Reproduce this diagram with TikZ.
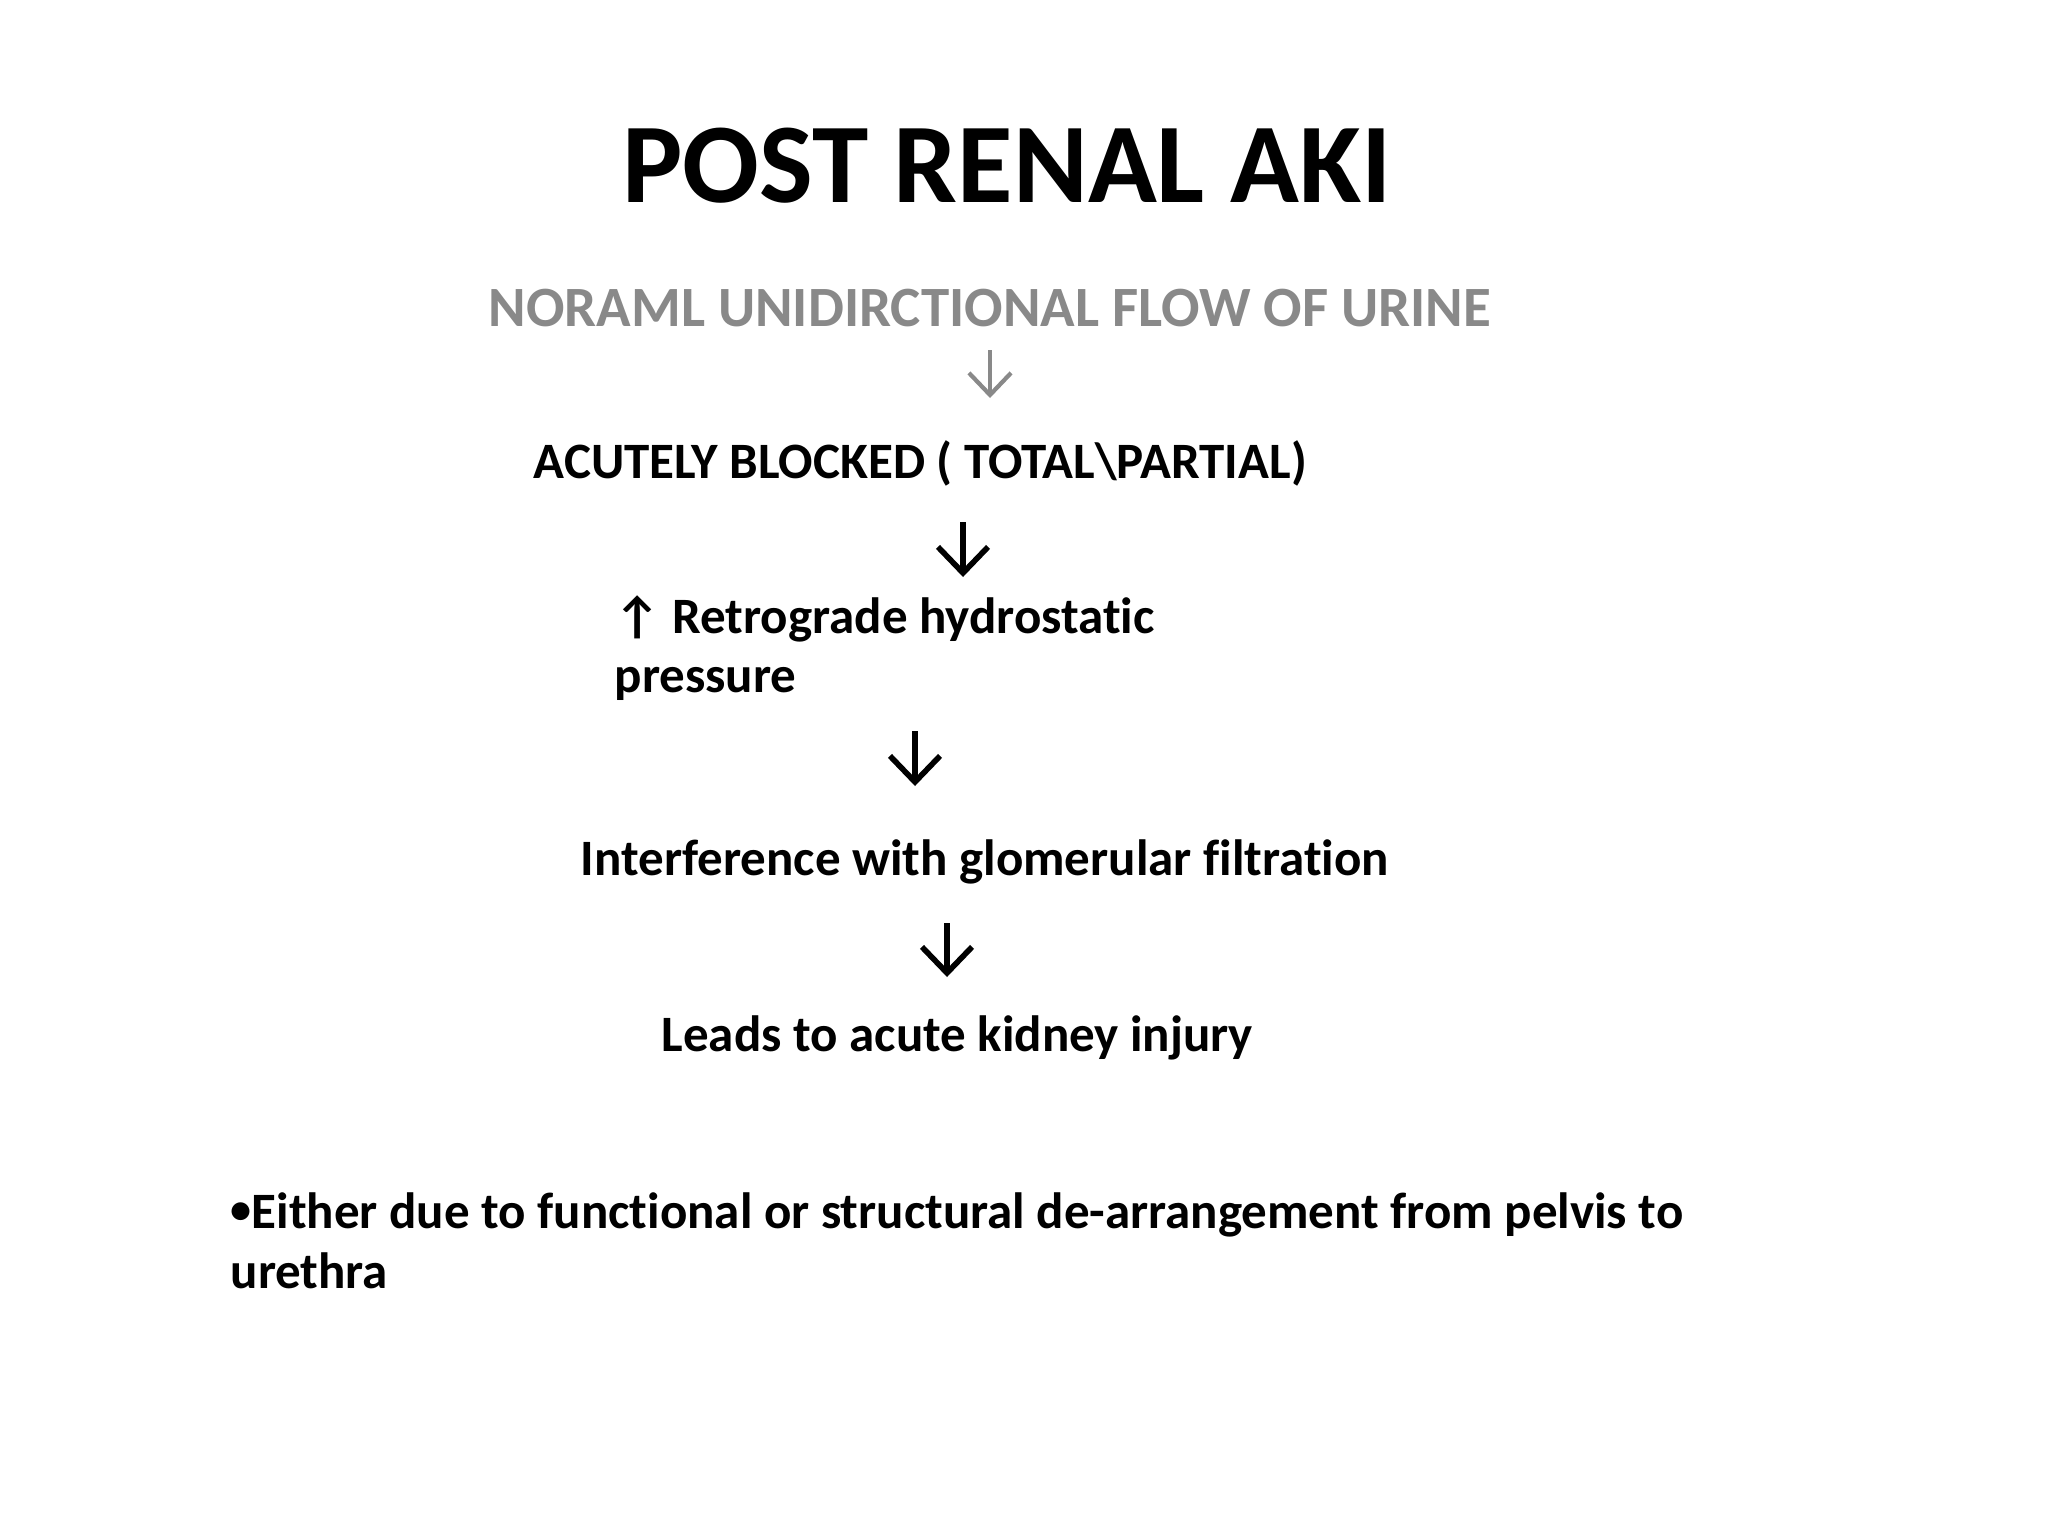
\documentclass[tikz,border=0pt]{standalone}
\usepackage{fontspec}
\setmainfont[Ligatures=NoCommon]{Carlito}
\usetikzlibrary{arrows.meta}
\definecolor{fadegray}{RGB}{137,137,137}
\tikzset{
  txt/.style={inner sep=0pt, font=\fontsize{14.5}{18}\selectfont\bfseries},
  flow/.style={line width=1.6pt, -{Straight Barb[length=0.26cm, width=0.5cm]}},
  fadeflow/.style={line width=1.2pt, draw=fadegray, -{Straight Barb[length=0.22cm, width=0.42cm]}}
}
\begin{document}
\begin{tikzpicture}[x=0.01cm,y=-0.01cm]
\useasboundingbox[fill=white] (0,0) rectangle (2048,1536);
\node[inner sep=0pt, anchor=base, font=\fontsize{32.3}{40}\selectfont\bfseries] (title) at (1007,202) {POST RENAL AKI};
\node[txt, anchor=base, text=fadegray, font=\fontsize{16.2}{20}\selectfont\bfseries] (normal) at (990,326) {NORAML UNIDIRCTIONAL FLOW OF URINE};
\coordinate (g1) at (990,350);
\coordinate (g2) at (990,398);
\draw[fadeflow] (g1) -- (g2);
\node[txt, anchor=base west] (blocked) at (533,478) {ACUTELY BLOCKED ( TOTAL\textbackslash PARTIAL)};
\coordinate (a1s) at (963,522);
\coordinate (a1e) at (963,577);
\draw[flow] (a1s) -- (a1e);
\node[txt, anchor=base west] (ret1) at (614,633) {↑ Retrograde hydrostatic};
\node[txt, anchor=base west] (ret2) at (614,692) {pressure};
\coordinate (a2s) at (915,731);
\coordinate (a2e) at (915,786);
\draw[flow] (a2s) -- (a2e);
\node[txt, anchor=base] (interf) at (985,875) {Interference with glomerular filtration};
\coordinate (a3s) at (947,923);
\coordinate (a3e) at (947,977);
\draw[flow] (a3s) -- (a3e);
\node[txt, anchor=base west] (leads) at (661,1051) {Leads to acute kidney injury};
\node[txt, anchor=base west] (bul1) at (230,1228) {\raisebox{0.08em}{\fontsize{12}{12}\selectfont•}Either due to functional or structural de-arrangement from pelvis to};
\node[txt, anchor=base west] (bul2) at (230,1288) {urethra};
\end{tikzpicture}
\end{document}
